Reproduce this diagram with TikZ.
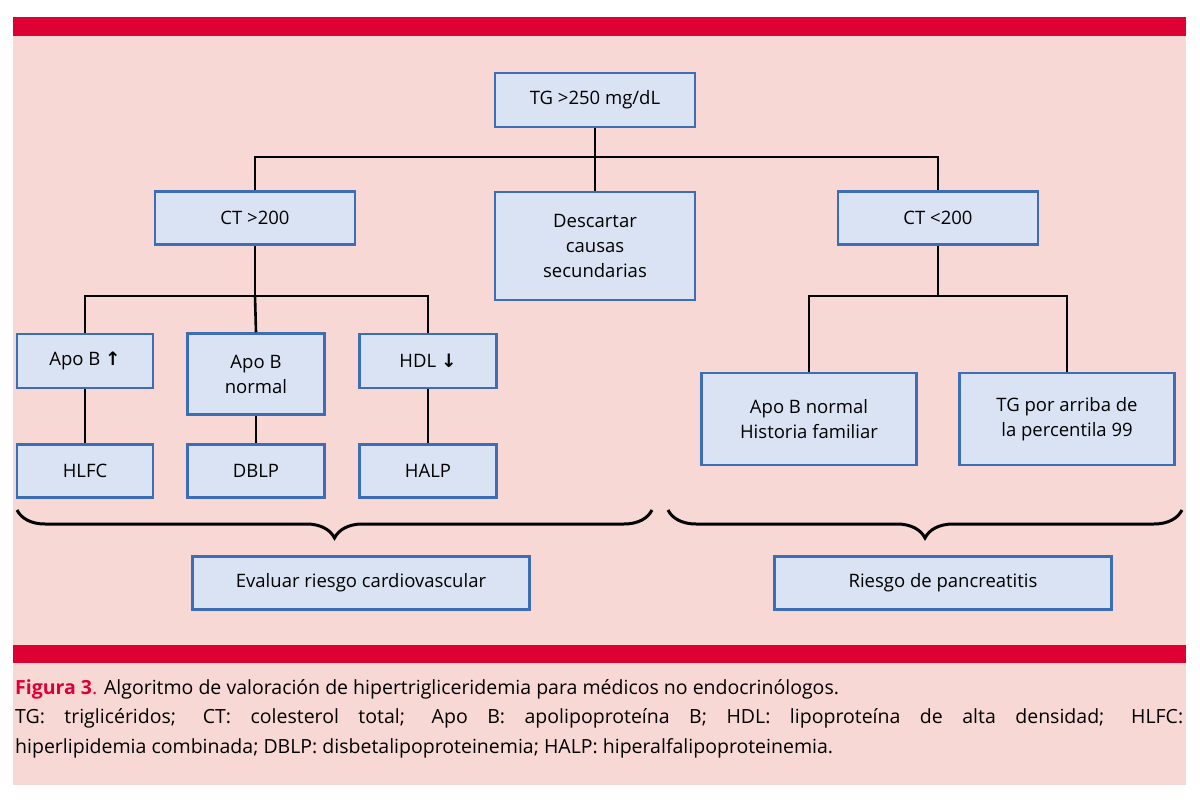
\documentclass[tikz,border=0pt]{standalone}
\usepackage{fontspec}
\setmainfont{Open Sans}
\newfontfamily\arrowfont{DejaVu Sans}
\usetikzlibrary{positioning,decorations.pathreplacing}
\definecolor{panel}{HTML}{F8D8D4}
\definecolor{barred}{HTML}{DE0032}
\definecolor{boxfill}{HTML}{DAE3F3}
\definecolor{boxline}{HTML}{3D6DB5}
\tikzset{
box/.style={
  draw=boxline, fill=boxfill, line width=2.5pt, align=center,
  font=\fontsize{18.5}{25}\selectfont, inner sep=2pt
  },
link/.style={draw=black, line width=2.6pt},
curly/.style={decorate, decoration={brace, amplitude=28pt, mirror}, line width=3pt}
}
\begin{document}
\begin{tikzpicture}[x=1pt,y=-1pt]
\useasboundingbox (0,0) rectangle (1200,803);
% background
\fill[panel] (13,17) rectangle (1186,785);
\fill[barred] (13,17) rectangle (1186,36);
\fill[barred] (13,645) rectangle (1186,663);

% first level
\node[box, minimum width=200pt, minimum height=54pt] (tg) at (595,100) {TG >250 mg/dL};
\node[box, minimum width=200pt, minimum height=53pt] (cthi) at (255,218) {CT >200};
\node[box, minimum width=200pt, minimum height=108pt] (desc) at (595,246) {Descartar\\causas\\secundarias};
\node[box, minimum width=200pt, minimum height=53pt] (ctlo) at (938,218) {CT <200};

% left branch
\node[box, minimum width=136pt, minimum height=54pt] (apob) at (85,361) {Apo B {\arrowfont\textbf{↑}}};
\node[box, minimum width=137pt, minimum height=81pt] (apon) at (256,374) {Apo B\\normal};
\node[box, minimum width=137pt, minimum height=54pt] (hdl) at (428,361) {HDL {\arrowfont\textbf{↓}}};
\node[box, minimum width=136pt, minimum height=53pt] (hlfc) at (85,471) {HLFC};
\node[box, minimum width=137pt, minimum height=53pt] (dblp) at (256,471) {DBLP};
\node[box, minimum width=137pt, minimum height=53pt] (halp) at (428,471) {HALP};

% right branch
\node[box, minimum width=215pt, minimum height=92pt] (hist) at (809,419) {Apo B normal\\Historia familiar};
\node[box, minimum width=215pt, minimum height=92pt] (perc) at (1067,419) {TG por arriba de\\la percentila 99};

% outcomes
\node[box, minimum width=337pt, minimum height=53pt] (eval) at (361,583) {Evaluar riesgo cardiovascular};
\node[box, minimum width=337pt, minimum height=53pt] (panc) at (943,583) {Riesgo de pancreatitis};

% connectors
\coordinate (j1) at (595,157);
\draw[link] (tg.south) -- (j1);
\draw[link] (cthi.north) |- (j1) -| (ctlo.north);
\draw[link] (j1) -- (desc.north);
\coordinate (j2) at (255,296);
\draw[link] (cthi.south) -- (j2);
\draw[link] (apob.north) |- (j2) -| (hdl.north);
\draw[link] (j2) -- (apon.north);
\coordinate (j3) at (938,296);
\draw[link] (ctlo.south) -- (j3);
\draw[link] (hist.north) |- (j3) -| (perc.north);
\draw[link] (apob) -- (hlfc);
\draw[link] (apon) -- (dblp);
\draw[link] (hdl) -- (halp);

% braces
\coordinate (b1) at (17,510);
\coordinate (b2) at (652,510);
\coordinate (b3) at (668,510);
\coordinate (b4) at (1182,510);
\draw[curly] (b1) -- (b2);
\draw[curly] (b3) -- (b4);

% caption
\node[anchor=north west, text width=1168pt, align=justify, inner sep=0pt,
  font=\fontsize{19.5}{29.5}\selectfont] (cap) at (15,679)
{\textcolor{barred}{\textbf{Figura 3}.} Algoritmo de valoración de hipertrigliceridemia para médicos no endocrinólogos.\\
TG: triglicéridos; CT: colesterol total; Apo B: apolipoproteína B; HDL: lipoproteína de alta densidad; HLFC:\linebreak
hiperlipidemia combinada; DBLP: disbetalipoproteinemia; HALP: hiperalfalipoproteinemia.};
\end{tikzpicture}
\end{document}
